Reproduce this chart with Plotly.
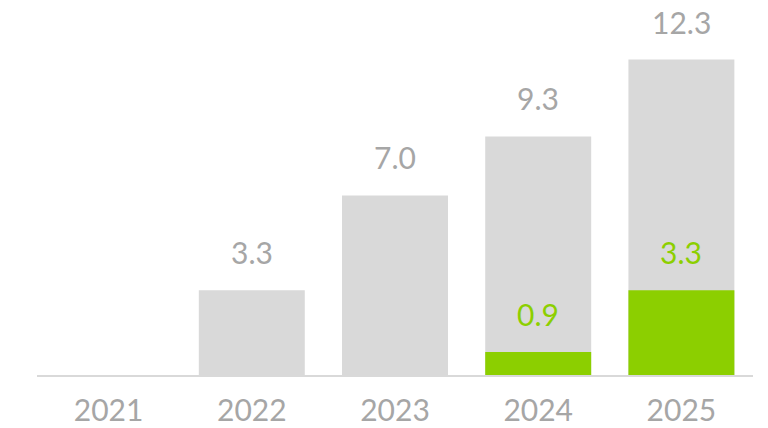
import plotly.graph_objects as go

years = ["2021", "2022", "2023", "2024", "2025"]
total = [0, 3.3, 7.0, 9.3, 12.3]
green = [0, 0, 0, 0.9, 3.3]
total_labels = ["", "3.3", "7.0", "9.3", "12.3"]
green_labels = ["", "", "", "0.9", "3.3"]

GRAY_BAR = "#d9d9d9"
GRAY_TXT = "#a6a6a6"
GREEN = "#8ccf00"
FONT = "Lato"

# the page body has an 8px default margin; compensate in the plot margins
OFF = 8

fig = go.Figure()
fig.add_trace(go.Bar(x=years, y=total, marker_color=GRAY_BAR, marker_line_width=0,
                     hoverinfo="skip"))
fig.add_trace(go.Bar(x=years, y=green, marker_color=GREEN, marker_line_width=0,
                     hoverinfo="skip"))

for i, (v, t) in enumerate(zip(total, total_labels)):
    if t:
        fig.add_annotation(x=i, y=v, xref="x", yref="y", text=t, showarrow=False,
                           yanchor="bottom", yshift=18,
                           font=dict(family=FONT, size=30, color=GRAY_TXT))
for i, (v, t) in enumerate(zip(green, green_labels)):
    if t:
        fig.add_annotation(x=i, y=v, xref="x", yref="y", text=t, showarrow=False,
                           yanchor="bottom", yshift=18,
                           font=dict(family=FONT, size=30, color=GREEN))

fig.update_layout(
    width=768, height=428,
    margin=dict(l=37 - OFF, r=15 + OFF, t=0, b=53 + OFF),
    barmode="overlay", bargap=0.26,
    plot_bgcolor="white", paper_bgcolor="white",
    showlegend=False,
    font=dict(family=FONT, color=GRAY_TXT),
    xaxis=dict(type="category", showline=True, linecolor=GRAY_BAR, linewidth=2,
               showgrid=False, range=[-0.5, 4.5], fixedrange=True,
               ticks="outside", ticklen=8, tickcolor="rgba(0,0,0,0)",
               tickfont=dict(family=FONT, size=30, color=GRAY_TXT)),
    yaxis=dict(range=[0, 14.31], visible=False, showgrid=False, zeroline=False,
               fixedrange=True),
)

fig.write_html("out.html")
